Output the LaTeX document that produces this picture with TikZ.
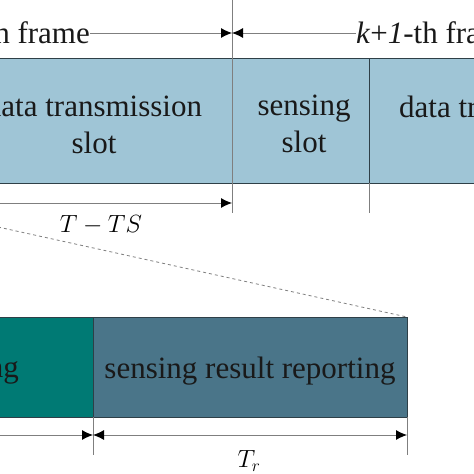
\documentclass[tikz,border=0pt]{standalone}
\usepackage{fontspec}
\setmainfont{Liberation Serif}
\usetikzlibrary{arrows.meta}
\definecolor{lblue}{HTML}{9FC5D6}
\definecolor{teal2}{HTML}{007A74}
\definecolor{slate}{HTML}{4A7589}
\definecolor{edge}{HTML}{2E3F47}
\definecolor{dim}{HTML}{7F7F7F}
\tikzset{
  txt/.style={font=\fontsize{31}{37}\selectfont, inner sep=0pt, align=center, text=black!90},
  mth/.style={font=\fontsize{26}{30}\selectfont, inner sep=0pt},
  dimline/.style={draw=dim, line width=0.9pt},
  hd/.tip={Latex[length=11pt,width=10pt,fill=black,color=black]},
  tip/.style={-hd},
  dtip/.style={hd-hd},
  tick/.style={draw=dim, line width=0.9pt},
  seg/.style={draw=edge, line width=0.9pt}
}
\begin{document}
\begin{tikzpicture}[x=1pt,y=-1pt]
\useasboundingbox (0,0) rectangle (474,474);
\clip (0,0) rectangle (474,474);
% top bar
\fill[lblue] (-5,58) rectangle (480,183);
\draw[seg] (-5,58) -- (480,58);
\draw[seg] (-5,183) -- (480,183);
\draw[seg] (232,58) -- (232,183);
\draw[seg] (369,58) -- (369,183);
% ticks
\coordinate (t1top) at (232,0);
\coordinate (t1bot) at (232,213);
\coordinate (t2top) at (369,183);
\coordinate (t2bot) at (369,213);
\draw[tick] (t1top) -- (t1bot);
\draw[tick] (t2top) -- (t2bot);
% frame labels
\node[txt, anchor=east] (kf) at (90,33) {\textit{k}-th frame};
\node[txt, anchor=west] (k1f) at (356,33) {\textit{k}+\textit{1}-th frame};
\coordinate (fa) at (232,33);
\draw[dimline,tip] (kf.east) -- (fa);
\draw[dimline,tip] (k1f.west) -- (fa);
% slot texts
\node[txt] (dts) at (94,124) {data transmission\\slot};
\node[txt] (ss) at (304,124) {sensing\\slot};
\node[txt, anchor=west] (dt2) at (399,107) {data transmission};
% T-TS
\coordinate (tsl) at (-5,203);
\coordinate (tsr) at (232,203);
\draw[dimline,tip] (tsl) -- (tsr);
\node[mth] (tts) at (101,225) {$T-TS$};
% dashed
\coordinate (d1) at (-2,227);
\coordinate (d2) at (407,317);
\draw[dim, dashed, line width=0.8pt] (d1) -- (d2);
% bottom bar
\fill[teal2] (-5,317) rectangle (93,417);
\fill[slate] (93,317) rectangle (407,417);
\draw[seg] (-5,317) -- (407,317) -- (407,417) -- (-5,417);
\draw[seg] (93,317) -- (93,417);
\node[txt, anchor=east] (sn) at (19,371) {sensing};
\node[txt] (srr) at (250,371) {sensing result reporting};
% bottom dims
\coordinate (b1top) at (93,417);
\coordinate (b1bot) at (93,455);
\coordinate (b2top) at (407,417);
\coordinate (b2bot) at (407,455);
\draw[tick] (b1top) -- (b1bot);
\draw[tick] (b2top) -- (b2bot);
\coordinate (bl) at (-5,435);
\coordinate (bm) at (93,435);
\coordinate (br) at (407,435);
\draw[dimline,tip] (bl) -- (bm);
\draw[dimline,dtip] (bm) -- (br);
\node[mth] (tr) at (249,461) {$T_r$};
\end{tikzpicture}
\end{document}
